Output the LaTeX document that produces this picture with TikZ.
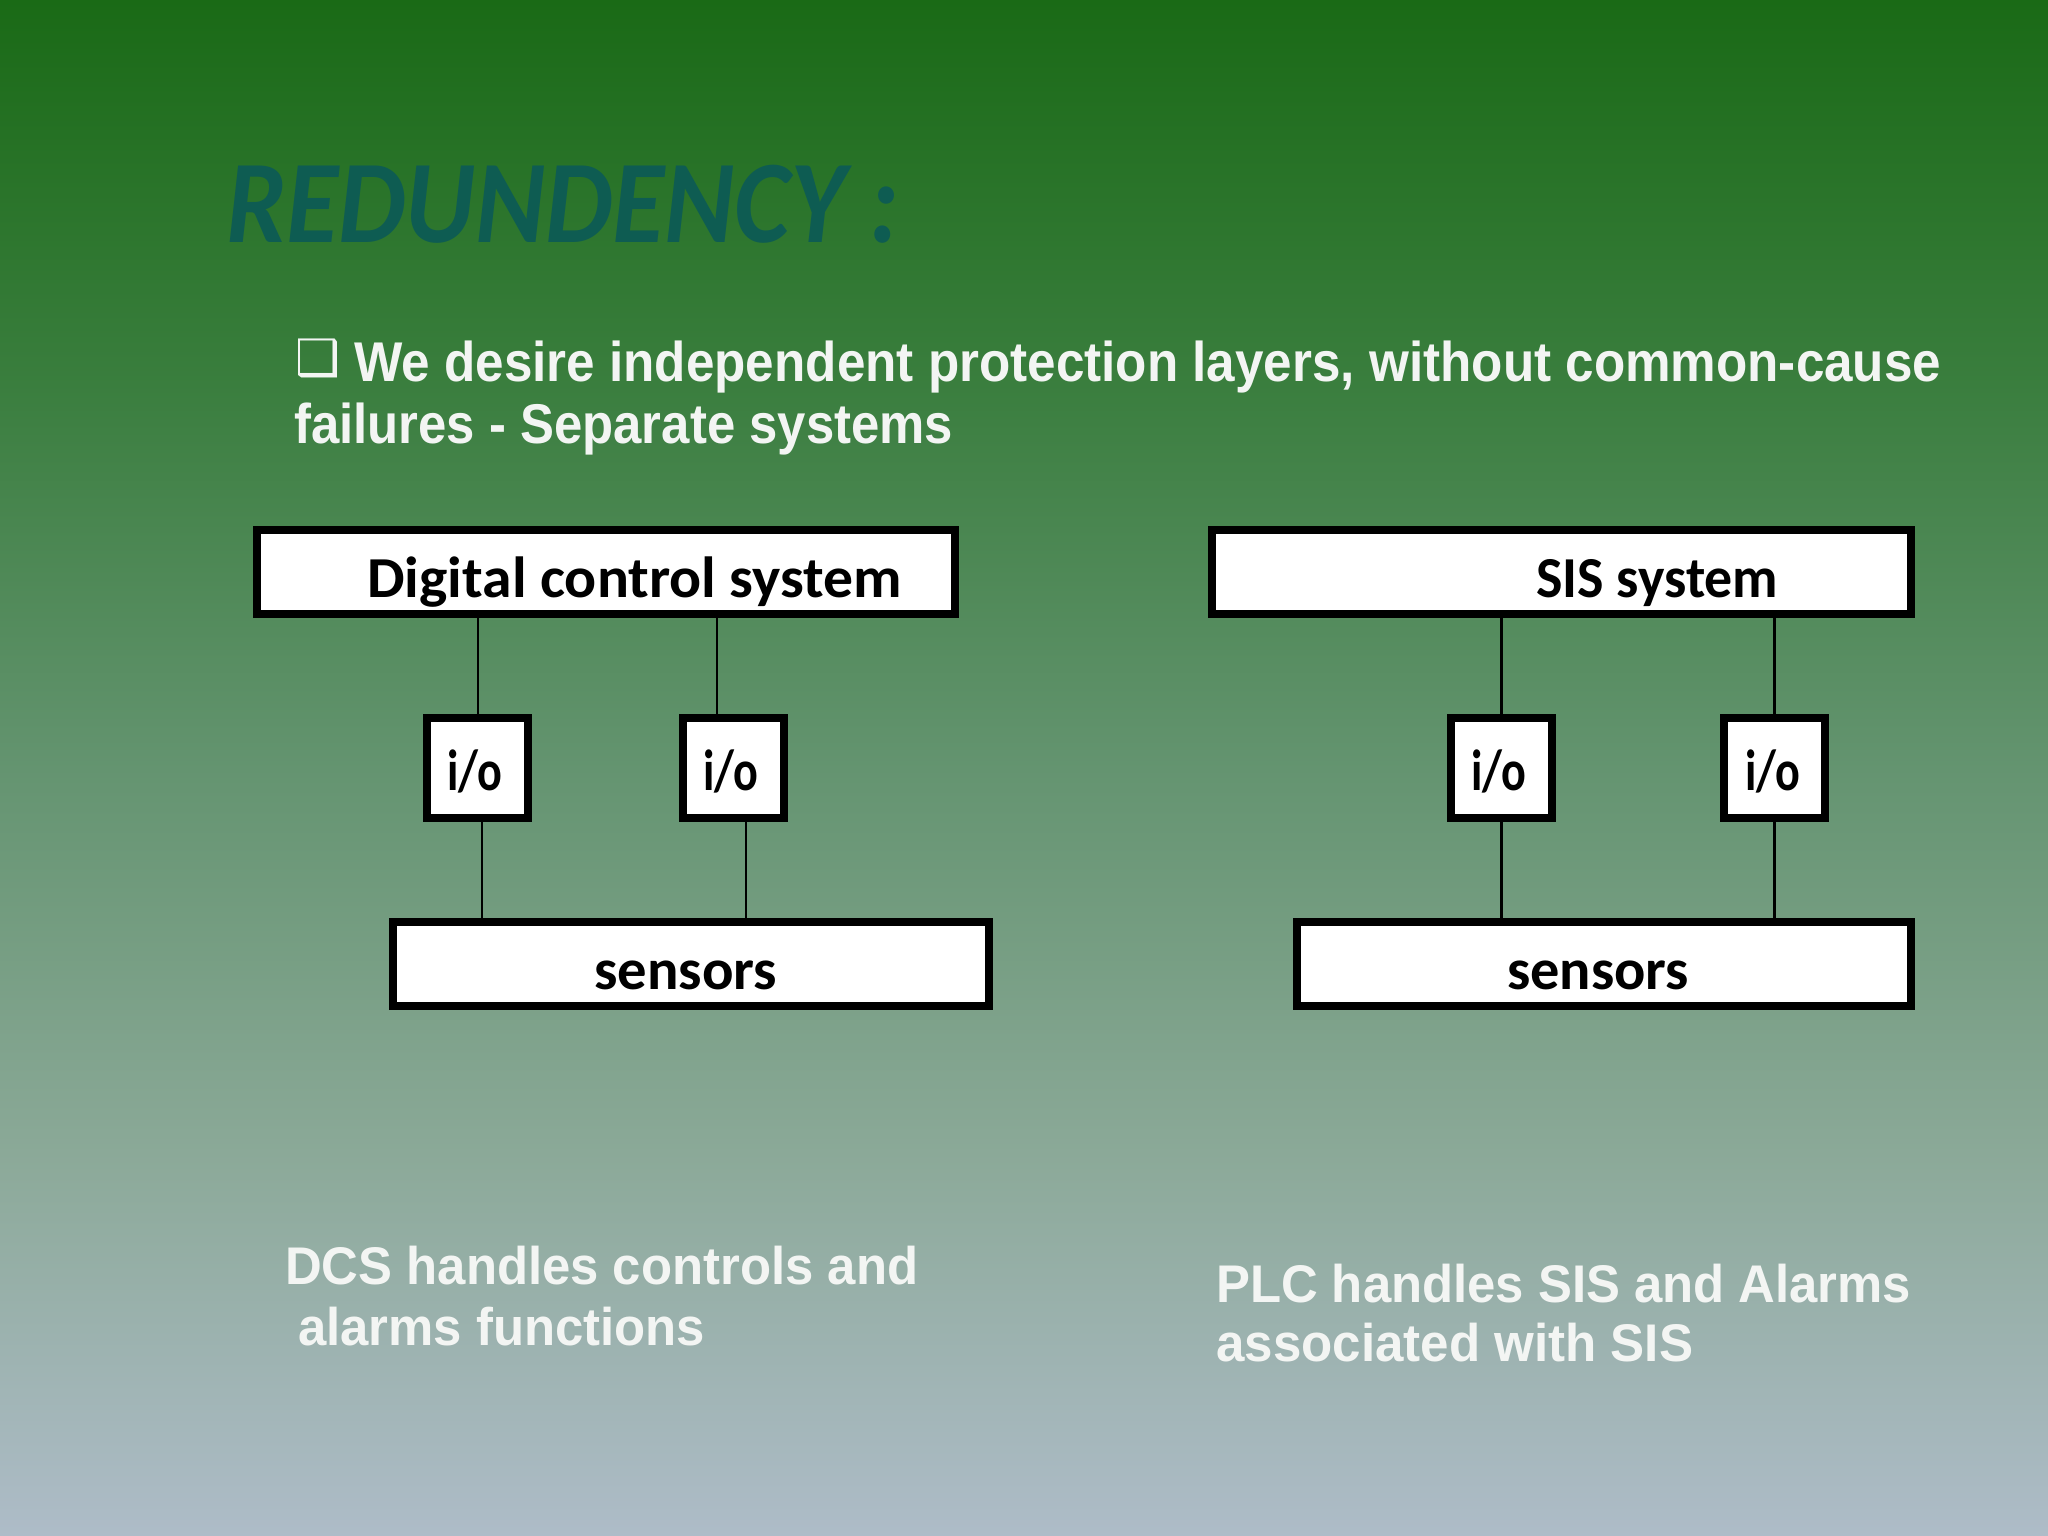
\documentclass[tikz,border=0pt]{standalone}
\usepackage{fontspec}
\usepackage{graphicx}
\setmainfont{Liberation Sans}
\newfontfamily\calibri{Carlito}
\newfontfamily\symfont{DejaVu Sans}
\usetikzlibrary{calc}
\definecolor{bgA}{RGB}{26,106,22}
\definecolor{bgB}{RGB}{58,126,62}
\definecolor{bgC}{RGB}{100,148,112}
\definecolor{bgD}{RGB}{139,169,152}
\definecolor{bgE}{RGB}{174,188,200}
\definecolor{titlecol}{RGB}{14,92,82}
\definecolor{txtcol}{RGB}{243,245,243}
\newcommand{\fitw}[2]{\resizebox{#1}{\height}{#2}}
\tikzset{
  box/.style={draw=black, line width=8pt, fill=white, inner sep=0pt},
  lbl/.style={inner sep=0pt, anchor=base west, text=black, font=\calibri\bfseries\fontsize{58}{60}\selectfont},
  wtxt/.style={inner sep=0pt, anchor=base west, text=txtcol, font=\bfseries\fontsize{56}{64}\selectfont},
  btxt/.style={inner sep=0pt, anchor=base west, text=txtcol, font=\bfseries\fontsize{53}{60}\selectfont},
  link/.style={line width=2.5pt, draw=black},
}
\begin{document}
\begin{tikzpicture}[x=1pt,y=-1pt]
% background
\shade[top color=bgA, bottom color=bgB] (0,0) rectangle (2048,385);
\shade[top color=bgB, bottom color=bgC] (0,384) rectangle (2048,769);
\shade[top color=bgC, bottom color=bgD] (0,768) rectangle (2048,1153);
\shade[top color=bgD, bottom color=bgE] (0,1152) rectangle (2048,1536);
\useasboundingbox (0,0) rectangle (2048,1536);

% title
\node[inner sep=0pt, anchor=base west, text=titlecol, font=\calibri\bfseries\itshape\fontsize{118}{120}\selectfont] (title) at (226,242) {\fitw{673pt}{REDUNDENCY :}};

% bullet
\node[inner sep=0pt, anchor=south west, text=txtcol] (chk) at (295,378) {\resizebox{45pt}{!}{\symfont ❑}};
\node[wtxt] (b1) at (354,381) {\fitw{1587pt}{We desire independent protection layers, without common-cause}};
\node[wtxt] (b2) at (294,443) {\fitw{659pt}{failures - Separate systems}};

% boxes
\node[box, minimum width=698pt, minimum height=84pt] (dcs) at (606,572) {};
\node[box, minimum width=699pt, minimum height=84pt] (sis) at (1561.5,572) {};
\node[box, minimum width=101pt, minimum height=100pt] (io1) at (477.5,768) {};
\node[box, minimum width=101pt, minimum height=100pt] (io2) at (733.5,768) {};
\node[box, minimum width=101pt, minimum height=100pt] (io3) at (1501.5,768) {};
\node[box, minimum width=101pt, minimum height=100pt] (io4) at (1774.5,768) {};
\node[box, minimum width=596pt, minimum height=84pt] (sen1) at (691,964) {};
\node[box, minimum width=614pt, minimum height=84pt] (sen2) at (1604,964) {};

% labels
\node[lbl] (dcslbl) at (367,597) {\fitw{535pt}{Digital control system}};
\node[lbl] (sislbl) at (1536,597) {\fitw{242pt}{SIS system}};
\node[lbl] (io1lbl) at (447,790) {\fitw{55pt}{i/o}};
\node[lbl] (io2lbl) at (703,790) {\fitw{55pt}{i/o}};
\node[lbl] (io3lbl) at (1471,790) {\fitw{55pt}{i/o}};
\node[lbl] (io4lbl) at (1745,790) {\fitw{55pt}{i/o}};
\node[lbl] (sen1lbl) at (594,989) {\fitw{183pt}{sensors}};
\node[lbl] (sen2lbl) at (1507,989) {\fitw{182pt}{sensors}};

% connectors
\coordinate (t1) at ([xshift=0.5pt]io1.north);
\coordinate (t2) at ([xshift=-16.5pt]io2.north);
\coordinate (u1) at ([xshift=4.5pt]io1.south);
\coordinate (u2) at ([xshift=12.5pt]io2.south);
\draw[link] (t1) -- (t1 |- dcs.south);
\draw[link] (t2) -- (t2 |- dcs.south);
\draw[link] (u1) -- (u1 |- sen1.north);
\draw[link] (u2) -- (u2 |- sen1.north);
\draw[link] (io3.north) -- (io3.north |- sis.south);
\draw[link] (io4.north) -- (io4.north |- sis.south);
\draw[link] (io3.south) -- (io3.south |- sen2.north);
\draw[link] (io4.south) -- (io4.south |- sen2.north);

% bottom texts
\node[btxt] (dcs1) at (285,1284) {\fitw{633pt}{DCS handles controls and}};
\node[btxt] (dcs2) at (298,1345) {\fitw{407pt}{alarms functions}};
\node[btxt] (plc1) at (1216,1302) {\fitw{695pt}{PLC handles SIS and Alarms}};
\node[btxt] (plc2) at (1216,1361) {\fitw{477pt}{associated with SIS}};
\end{tikzpicture}
\end{document}
